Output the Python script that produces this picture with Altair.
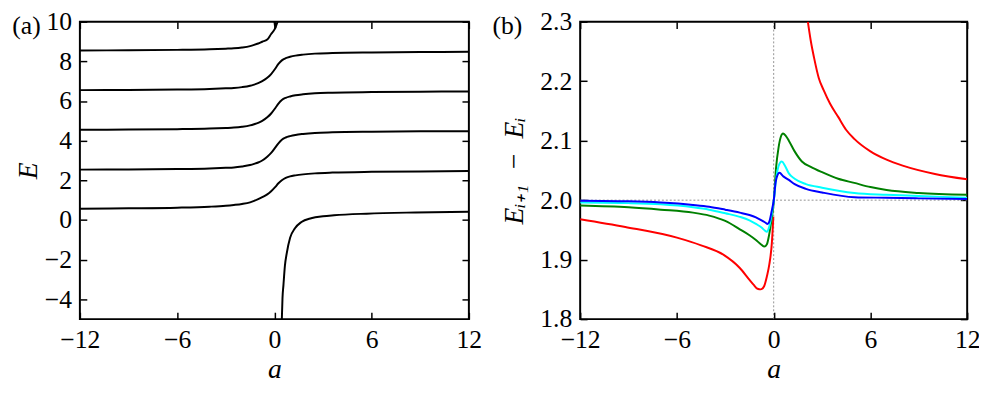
import altair as alt
import pandas as pd

FONT = "Liberation Serif"
TICK = 7

# ---------------- panel (a): energy levels E(a) ----------------
A_GRID = [-12, -9, -6, -4, -3, -2.5, -2, -1.5, -1.25, -1, -0.75, -0.44, -0.2, 0.06,
          0.25, 0.46, 0.7, 0.97, 1.3, 1.77, 2.5, 3.58, 6, 9, 12]
LEVEL0 = [0.57, 0.59, 0.62, 0.67, 0.72, 0.76, 0.81, 0.89, 0.96, 1.05, 1.15, 1.29, 1.45, 1.67,
          1.85, 2.00, 2.12, 2.20, 2.25, 2.30, 2.35, 2.39, 2.43, 2.45, 2.47]
LEVEL1 = [2.54, 2.55, 2.57, 2.60, 2.63, 2.65, 2.70, 2.77, 2.83, 2.90, 3.00, 3.19, 3.38, 3.66,
          3.87, 4.05, 4.16, 4.23, 4.29, 4.34, 4.39, 4.42, 4.45, 4.47, 4.48]
LEVEL2 = [4.55, 4.56, 4.58, 4.61, 4.64, 4.66, 4.70, 4.77, 4.83, 4.90, 5.00, 5.18, 5.37, 5.65,
          5.87, 6.05, 6.16, 6.23, 6.29, 6.34, 6.39, 6.42, 6.45, 6.47, 6.48]
LEVEL3 = [6.55, 6.56, 6.58, 6.61, 6.64, 6.66, 6.70, 6.77, 6.83, 6.90, 7.00, 7.17, 7.36, 7.64,
          7.87, 8.05, 8.16, 8.23, 8.29, 8.34, 8.39, 8.42, 8.45, 8.47, 8.48]
LEVEL4_A = [-12, -9, -6, -4, -3, -2.5, -2, -1.5, -1.25, -1, -0.75, -0.44, -0.2, 0.0, 0.1, 0.2]
LEVEL4_E = [8.55, 8.56, 8.58, 8.61, 8.64, 8.66, 8.70, 8.77, 8.83, 8.90, 8.99, 9.10, 9.38, 9.60, 9.78, 10.0]
SPUR_A = [0.0, 0.06]
SPUR_E = [10.0, 9.68]
BOUND_A = [0.46, 0.5, 0.56, 0.65, 0.76, 0.97, 1.27, 1.67, 2.27, 3.0, 3.68, 5.69, 8.7, 12]
BOUND_E = [-5.0, -3.95, -3.27, -2.3, -1.69, -0.90, -0.42, -0.10, 0.09, 0.19, 0.24, 0.32, 0.38, 0.42]

# ---------------- panel (b): level spacings ----------------
RED_NEG_A = [-12, -9.2, -6, -4.5, -3.1, -2.1, -1.5, -1.25, -1.0, -0.8, -0.6, -0.42, -0.27, -0.11, -0.02]
RED_NEG_V = [1.968, 1.955, 1.937, 1.924, 1.908, 1.886, 1.866, 1.858, 1.851, 1.850, 1.855, 1.872, 1.892, 1.929, 1.972]
RED_POS_A = [2.12, 2.3, 2.5, 2.8, 3.1, 3.5, 4.0, 4.5, 5.0, 6.0, 7.0, 8.0, 10.0, 12.0]
RED_POS_V = [2.300, 2.268, 2.240, 2.205, 2.185, 2.162, 2.140, 2.118, 2.103, 2.082, 2.068, 2.058, 2.044, 2.035]
GREEN_A = [-12, -9, -7, -5, -4, -3, -2.1, -1.5, -1.1, -0.8, -0.58, -0.42, -0.28, -0.14, 0.0, 0.15,
           0.3, 0.45, 0.58, 0.75, 0.94, 1.3, 1.75, 2.3, 3.0, 4.0, 5.0, 6.0, 7.0, 9.0, 12.0]
GREEN_V = [1.991, 1.988, 1.984, 1.979, 1.974, 1.965, 1.951, 1.941, 1.933, 1.926, 1.922, 1.926, 1.942, 1.966,
           1.995, 2.055, 2.088, 2.107, 2.112, 2.108, 2.100, 2.082, 2.065, 2.056, 2.047, 2.036, 2.029, 2.022,
           2.017, 2.012, 2.009]
CYAN_A = [-12, -9, -7, -5, -4, -3, -2.1, -1.5, -1.1, -0.75, -0.55, -0.42, -0.3, -0.15, 0.0, 0.15,
          0.3, 0.5, 0.7, 0.94, 1.3, 2.0, 3.0, 5.0, 7.0, 9.0, 12.0]
CYAN_V = [1.996, 1.995, 1.993, 1.988, 1.984, 1.978, 1.972, 1.966, 1.960, 1.954, 1.949, 1.947, 1.953, 1.972,
          1.998, 2.035, 2.057, 2.065, 2.058, 2.045, 2.036, 2.027, 2.021, 2.012, 2.009, 2.007, 2.004]
BLUE_A = [-12, -9, -7, -5, -4, -3, -2.1, -1.5, -1.1, -0.75, -0.5, -0.38, -0.27, -0.12, 0.0, 0.12,
          0.25, 0.36, 0.6, 0.94, 1.3, 2.0, 3.0, 5.0, 7.0, 9.0, 12.0]
BLUE_V = [1.999, 1.998, 1.996, 1.992, 1.989, 1.984, 1.979, 1.975, 1.971, 1.966, 1.962, 1.960, 1.964, 1.982,
          1.999, 2.030, 2.043, 2.046, 2.040, 2.034, 2.027, 2.019, 2.013, 2.005, 2.004, 2.003, 2.002]

X_TICKS = [-12, -6, 0, 6, 12]
YA_TICKS = [-4, -2, 0, 2, 4, 6, 8, 10]
YB_TICKS = [1.8, 1.9, 2.0, 2.1, 2.2, 2.3]
REF_A = [0]
REF_V = [2.0]

PLOT_H = 302

# ---------------- tables ----------------
rows_a = []
for name, xs, ys in [("c0", A_GRID, LEVEL0), ("c1", A_GRID, LEVEL1), ("c2", A_GRID, LEVEL2),
                     ("c3", A_GRID, LEVEL3), ("c4", LEVEL4_A, LEVEL4_E), ("spur", SPUR_A, SPUR_E),
                     ("bound", BOUND_A, BOUND_E)]:
    for x, y in zip(xs, ys):
        rows_a.append({"a": x, "E": y, "curve": name})
df_a = pd.DataFrame(rows_a)

series_b = [
    ("red", "#ff0000", [("neg", RED_NEG_A, RED_NEG_V), ("pos", RED_POS_A, RED_POS_V)]),
    ("green", "#008000", [("all", GREEN_A, GREEN_V)]),
    ("cyan", "#00ffff", [("all", CYAN_A, CYAN_V)]),
    ("blue", "#0000ff", [("all", BLUE_A, BLUE_V)]),
]


def x_axes(title):
    bottom = alt.Axis(values=X_TICKS, orient="bottom", offset=-TICK, tickSize=TICK, domain=False,
                      grid=False, labelPadding=8, labelFlush=False, labelOverlap=False, title=title,
                      titlePadding=3, format="d")
    top = alt.Axis(values=X_TICKS, orient="top", offset=-TICK, tickSize=TICK, domain=False,
                   grid=False, labels=False, title=None)
    return bottom, top


def y_axes(values, fmt, title, title_pad):
    left = alt.Axis(values=values, orient="left", offset=-TICK, tickSize=TICK, domain=False,
                    grid=False, labelPadding=8.5, labelFlush=False, labelOverlap=False, title=title,
                    titlePadding=title_pad, format=fmt)
    right = alt.Axis(values=values, orient="right", offset=-TICK, tickSize=TICK, domain=False,
                     grid=False, labels=False, title=None)
    return left, right


def panel_title(text, dx):
    return alt.TitleParams(text=text, anchor="start", frame="bounds", orient="top", font=FONT,
                           fontSize=26, fontWeight="normal", color="black", offset=-30, dx=dx)


# ---------------- panel (a) ----------------
xs_a = alt.Scale(domain=[-12, 12], nice=False, zero=False)
ys_a = alt.Scale(domain=[-5, 10], nice=False, zero=False)
xb, xt = x_axes("a")
yl, yr = y_axes(YA_TICKS, "d", "E", 1.5)

lines_a = alt.Chart(df_a).mark_line(color="black", strokeWidth=2, interpolate="monotone", clip=True).encode(
    x=alt.X("a:Q", scale=xs_a, axis=xb),
    y=alt.Y("E:Q", scale=ys_a, axis=yl),
    detail="curve:N",
)
mirror_a = alt.Chart(df_a).mark_line(opacity=0).encode(
    x=alt.X("a:Q", scale=xs_a, axis=xt),
    y=alt.Y("E:Q", scale=ys_a, axis=yr),
    detail="curve:N",
)
panel_a = alt.layer(lines_a, mirror_a).resolve_axis(x="independent", y="independent").properties(
    width=395, height=PLOT_H, title=panel_title("(a)", -3))

# ---------------- panel (b) ----------------
xs_b = alt.Scale(domain=[-12, 12], nice=False, zero=False)
ys_b = alt.Scale(domain=[1.8, 2.3], nice=False, zero=False)
xb2, xt2 = x_axes("a")
yl2, yr2 = y_axes(YB_TICKS, ".1f", "E\u1d62\u208a\u2081\u2002\u2212\u2002E\u1d62", 12)

vref = alt.Chart(pd.DataFrame({"a": REF_A})).mark_rule(color="#777777", strokeDash=[2, 2], strokeWidth=0.8).encode(
    x=alt.X("a:Q", scale=xs_b, axis=xb2))
href = alt.Chart(pd.DataFrame({"v": REF_V})).mark_rule(color="#777777", strokeDash=[2, 2], strokeWidth=0.8).encode(
    y=alt.Y("v:Q", scale=ys_b, axis=yl2))

layers_b = [vref, href]
for name, col, segs in series_b:
    rows = []
    for seg, xs, ys in segs:
        for x, y in zip(xs, ys):
            rows.append({"a": x, "v": y, "seg": seg})
    layers_b.append(
        alt.Chart(pd.DataFrame(rows)).mark_line(color=col, strokeWidth=2, interpolate="monotone", clip=True).encode(
            x=alt.X("a:Q", scale=xs_b, axis=None),
            y=alt.Y("v:Q", scale=ys_b, axis=None),
            detail="seg:N",
        )
    )
mirror_b = alt.Chart(pd.DataFrame({"a": X_TICKS, "v": [1.8, 1.9, 2.0, 2.1, 2.2]})).mark_point(opacity=0).encode(
    x=alt.X("a:Q", scale=xs_b, axis=xt2),
    y=alt.Y("v:Q", scale=ys_b, axis=yr2),
)
layers_b.append(mirror_b)
panel_b = alt.layer(*layers_b).resolve_axis(x="independent", y="independent").properties(
    width=393, height=PLOT_H, title=panel_title("(b)", -8))

chart = alt.hconcat(panel_a, panel_b, spacing=9).properties(
    padding={"top": -3, "left": 3, "right": -2, "bottom": 0}
).configure_view(stroke="black", strokeWidth=2).configure_axis(
    labelFont=FONT, labelFontSize=26, labelColor="black",
    titleFont=FONT, titleFontSize=28, titleFontStyle="italic", titleFontWeight="normal", titleColor="black",
    tickColor="black", tickWidth=1.5,
)

chart.save("out.html", embed_options={"renderer": "svg", "actions": False})
